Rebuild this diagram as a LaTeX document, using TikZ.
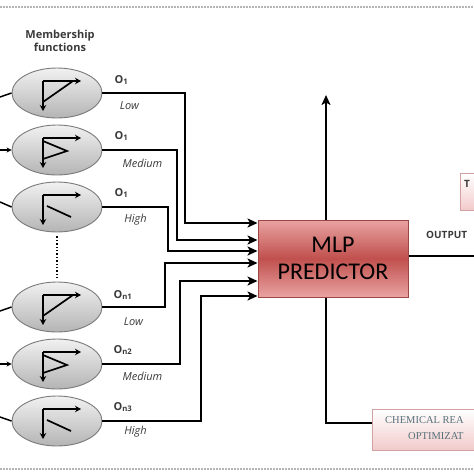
\documentclass[tikz,border=0pt]{standalone}
\usepackage{fontspec}
\setmainfont{Liberation Serif}
\setsansfont{Open Sans}
\newfontfamily\calibri{Carlito}
\usepackage{tikz}
\usetikzlibrary{arrows.meta,positioning,shapes.geometric}
\definecolor{RojoOsc}{HTML}{C0504D}
\definecolor{RojoCla}{HTML}{E9A3A2}
\definecolor{RojoBorde}{HTML}{9C4644}
\definecolor{Rosa}{HTML}{F2CACA}
\definecolor{RosaBorde}{HTML}{D2A2A2}
\definecolor{GrisCla}{HTML}{F1F1F1}
\definecolor{GrisMed}{HTML}{B4B4B4}
\definecolor{GrisBorde}{HTML}{7A7A7A}
\definecolor{GrisTexto}{HTML}{3A3A3A}
\definecolor{Pizarra}{HTML}{56707A}

\begin{document}
\begin{tikzpicture}[
  x=1pt,y=-1pt,
  every node/.style={font=\sffamily},
  mfnode/.style={ellipse,draw=GrisBorde,line width=0.9pt,top color=GrisCla,
    bottom color=GrisMed,minimum width=90pt,minimum height=50pt,inner sep=0pt},
  axis/.style={line width=1.7pt,-{Stealth[length=6pt,width=6.5pt]}},
  mf/.style={line width=1.7pt},
  conn/.style={line width=2.1pt},
  feed/.style={conn,-{Stealth[length=10pt,width=9pt,inset=2.5pt]}},
  olabel/.style={font=\sffamily\bfseries\fontsize{11}{13}\selectfont,text=GrisTexto,anchor=west,inner sep=0pt},
  level/.style={font=\sffamily\itshape\fontsize{11}{13}\selectfont,text=GrisTexto,inner sep=0pt},
  pinkbox/.style={draw=RosaBorde,line width=0.8pt,top color=white,bottom color=Rosa,inner sep=0pt}
]
  \useasboundingbox (0,0) rectangle (474,474);
  \clip (0,0) rectangle (474,474);

  % frame lines (page cut)
  \draw[GrisMed,line width=1.2pt,dash pattern=on 2pt off 1pt] (0,7) -- (474,7);
  \draw[GrisMed,line width=1.2pt,dash pattern=on 2pt off 1pt] (0,469) -- (474,469);

  \node[font=\sffamily\bfseries\fontsize{11}{13}\selectfont,text=GrisTexto,align=center]
    (mftitle) at (60,41) {Membership\\functions};

  % membership function nodes
  \node[mfnode] (m1) at (57,93) {};
  \node[mfnode] (m2) at (57,150) {};
  \node[mfnode] (m3) at (57,207) {};
  \node[mfnode] (m4) at (57,307) {};
  \node[mfnode] (m5) at (57,364) {};
  \node[mfnode] (m6) at (57,421) {};
  \draw[dotted,line width=1.4pt,shorten <=4pt,shorten >=4pt] (m3.south) -- (m4.north);

  % axes of the small membership plots
  \foreach \i in {1,...,6} {
    \draw[axis] ([shift={(-14,-12)}]m\i.center) -- ++(38,0);
    \draw[axis] ([shift={(-14,-12)}]m\i.center) -- ++(0,30);
  }
  \foreach \i in {1,4}
    \draw[mf] ([shift={(-14,9)}]m\i.center) -- ([shift={(16,-12)}]m\i.center);
  \foreach \i in {2,5}
    \draw[mf] ([shift={(-14,-9)}]m\i.center) -- ([shift={(10,1)}]m\i.center)
      -- ([shift={(-14,9)}]m\i.center);
  \foreach \i in {3,6}
    \draw[mf] ([shift={(-10,-1)}]m\i.center) -- ([shift={(14,10)}]m\i.center);

  % inputs coming in from the left
  \coordinate (l1) at (0,97);
  \coordinate (l2) at (-2,150);
  \coordinate (l3) at (0,202);
  \coordinate (l4) at (0,311);
  \coordinate (l5) at (-2,364);
  \coordinate (l6) at (0,417);
  \foreach \i in {1,3,4,6}
    \draw[line width=1.5pt] (l\i) -- (m\i.west);
  \foreach \i in {2,5}
    \draw[line width=1.5pt,-{Stealth[length=5pt,width=5pt]}] (l\i) -- (m\i.west);

  % outputs and linguistic levels
  \node[olabel] (o1) at ([shift={(12,-13)}]m1.east) {O\textsubscript{1}};
  \node[olabel] (o2) at ([shift={(12,-14)}]m2.east) {O\textsubscript{1}};
  \node[olabel] (o3) at ([shift={(12,-14)}]m3.east) {O\textsubscript{1}};
  \node[olabel] (o4) at ([shift={(11,-12)}]m4.east) {O\textsubscript{n1}};
  \node[olabel] (o5) at ([shift={(11,-14)}]m5.east) {O\textsubscript{n2}};
  \node[olabel] (o6) at ([shift={(11,-14)}]m6.east) {O\textsubscript{n3}};
  \node[level] (lv1) at ([shift={(27,13)}]m1.east) {Low};
  \node[level] (lv2) at ([shift={(40,13)}]m2.east) {Medium};
  \node[level] (lv3) at ([shift={(33,13)}]m3.east) {High};
  \node[level] (lv4) at ([shift={(31,15)}]m4.east) {Low};
  \node[level] (lv5) at ([shift={(40,12)}]m5.east) {Medium};
  \node[level] (lv6) at ([shift={(33,11)}]m6.east) {High};

  % predictor
  \node[draw=RojoBorde,line width=1pt,top color=RojoCla,bottom color=RojoCla,
    middle color=RojoOsc,minimum width=150pt,minimum height=77pt,inner sep=0pt,
    align=center,font=\calibri\fontsize{24}{27}\selectfont,text=black]
    (mlp) at (333,258.5) {MLP\\PREDICTOR};

  \foreach \i/\xv/\yv in {1/185/223, 2/177/240, 3/168/251, 4/165/263, 5/180/281, 6/201/296}
    \draw[feed] (m\i.east) -| (\xv,\yv) -- (mlp.west |- 0,\yv);

  \coordinate (up) at (326,95);
  \draw[conn,-{Stealth[length=10pt,width=9pt,inset=2.5pt]}] (mlp.north -| up) -- (up);

  \coordinate (outp) at (480,256);
  \draw[line width=1.5pt] (mlp.east |- outp) -- (outp);
  \node[font=\sffamily\bfseries\fontsize{10}{12}\selectfont,text=GrisTexto,anchor=west,inner sep=0pt]
    (outlbl) at (426,235) {OUTPUT};

  \node[pinkbox,minimum width=60pt,minimum height=37pt,anchor=north west]
    (tbox) at (460,173) {};
  \node[font=\sffamily\bfseries\fontsize{10}{12}\selectfont,text=GrisTexto,anchor=west,inner sep=0pt]
    (tlbl) at (464,184) {T};

  \node[pinkbox,minimum width=150pt,minimum height=41pt,anchor=north west]
    (chem) at (372,409) {};
  \node[font=\rmfamily\fontsize{10.5}{12}\selectfont,text=Pizarra,anchor=west,inner sep=0pt]
    (chem1) at (385,420) {CHEMICAL REA};
  \node[font=\rmfamily\fontsize{10.5}{12}\selectfont,text=Pizarra,anchor=west,inner sep=0pt]
    (chem2) at (408,436) {OPTIMIZAT};
  \draw[conn] (mlp.south -| up) |- ([yshift=6.5pt]chem.west);
\end{tikzpicture}
\end{document}
